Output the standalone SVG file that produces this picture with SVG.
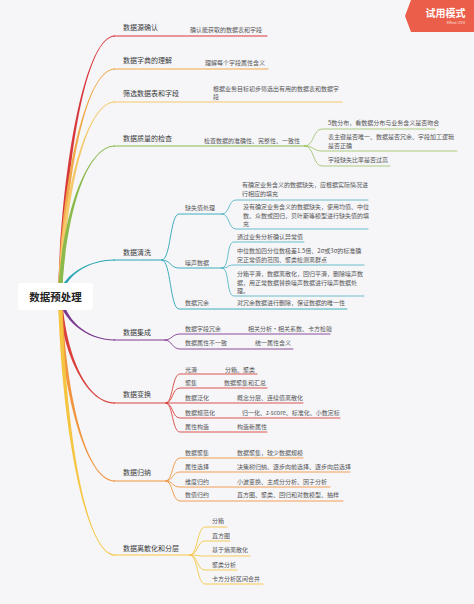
<svg xmlns="http://www.w3.org/2000/svg" width="474" height="604" viewBox="0 0 474 604">
<style>
text{font-family:"Noto Sans CJK SC","Noto Sans",sans-serif;fill:#555;}
.m{font-size:7px;fill:#3a3a3a;}
.c{font-size:6px;}
.root{font-size:10.5px;font-weight:bold;fill:#222;}
.ln{fill:none;stroke-linecap:round;}
.w1{stroke-width:1.2;}
.w2{stroke-width:0.9;}
.w3{stroke-width:0.7;}
.red{stroke:#d8383c;}.redf{fill:#d8383c;}
.or{stroke:#f1a84a;}.orf{fill:#f1a84a;}
.ye{stroke:#f5c96a;}.yef{fill:#f5c96a;}
.gr{stroke:#8cb94c;}.grf{fill:#8cb94c;}
.te{stroke:#2ba6b5;}.tef{fill:#2ba6b5;}
.pu{stroke:#7d3b8f;}.puf{fill:#7d3b8f;}
.cr{stroke:#d9423c;}.crf{fill:#d9423c;}
.or2{stroke:#f0953e;}.or2f{fill:#f0953e;}
.ye2{stroke:#f5c542;}.ye2f{fill:#f5c542;}
</style>
<rect x="0" y="0" width="474" height="604" fill="#f6f6f9"/>

<g id="connectors">
  <path class="redf" d="M58,296 C61,166 85,35.4 115,35.4 L115,36.6 C85,36.6 65,166 62,296 Z"/>
  <path class="orf" d="M58,296 C61,182.5 85,68.4 115,68.4 L115,69.6 C85,69.6 65,182.5 62,296 Z"/>
  <path class="yef" d="M58,296 C61,199 85,101.4 115,101.4 L115,102.6 C85,102.6 65,199 62,296 Z"/>
  <path class="grf" d="M58,296 C61,221 85,145.4 115,145.4 L115,146.6 C85,146.6 65,221 62,296 Z"/>
  <path class="tef" d="M58,296 C61,278 85,259.4 115,259.4 L115,260.6 C85,260.6 65,278 62,296 Z"/>
  <path class="puf" d="M58,296 C61,318 85,340.6 115,340.6 L115,339.4 C85,339.4 65,318 62,296 Z"/>
  <path class="crf" d="M58,296 C61,349.5 85,403.6 115,403.6 L115,402.4 C85,402.4 65,349.5 62,296 Z"/>
  <path class="or2f" d="M58,296 C61,388.5 85,481.6 115,481.6 L115,480.4 C85,480.4 65,388.5 62,296 Z"/>
  <path class="ye2f" d="M58,296 C61,425.5 85,555.6 115,555.6 L115,554.4 C85,554.4 65,425.5 62,296 Z"/>

  <path class="ln w1 red" d="M114,36 L267,36"/>
  <path class="ln w1 or" d="M114,69 L268,69"/>
  <path class="ln w1 ye" d="M114,102 L342,102"/>
  <path class="ln w1 gr" d="M114,146 L305,146"/>
  <path class="ln w3 gr" d="M305,146 C314,146 313,129 322,129 L435,129"/>
  <path class="ln w3 gr" d="M305,146 C314,146 313,151 322,151 L457,151"/>
  <path class="ln w3 gr" d="M305,146 C314,146 313,166 322,166 L390,166"/>
  <path class="ln w1 te" d="M114,260 L162,260"/>
  <path class="ln w2 te" d="M162,260 C171,260 170,214 179,214 L222,214"/>
  <path class="ln w2 te" d="M162,260 C171,260 170,268 179,268 L222,268"/>
  <path class="ln w2 te" d="M162,260 C171,260 170,309 179,309 L347,309"/>
  <path class="ln w3 te" d="M222,214 C230,214 228,200 236,200 L368,200"/>
  <path class="ln w3 te" d="M222,214 C230,214 228,229 236,229 L368,229"/>
  <path class="ln w3 te" d="M222,268 C230,268 226,242 234,242 L304,242"/>
  <path class="ln w3 te" d="M222,268 C230,268 226,265 234,265 L364,265"/>
  <path class="ln w3 te" d="M222,268 C230,268 226,296 234,296 L364,296"/>
  <path class="ln w1 pu" d="M114,340 L165,340"/>
  <path class="ln w2 pu" d="M165,340 C172,340 172,334 180,334 L330,334"/>
  <path class="ln w2 pu" d="M165,340 C172,340 172,349 180,349 L293,349"/>
  <path class="ln w1 cr" d="M114,403 L166,403"/>
  <path class="ln w2 cr" d="M166,403 C173,403 172,374 180,374 L257,374"/>
  <path class="ln w2 cr" d="M166,403 C173,403 172,388 180,388 L267,388"/>
  <path class="ln w2 cr" d="M166,403 L303,403"/>
  <path class="ln w2 cr" d="M166,403 C173,403 172,418 180,418 L340,418"/>
  <path class="ln w2 cr" d="M166,403 C173,403 172,432 180,432 L267,432"/>
  <path class="ln w1 or2" d="M114,481 L166,481"/>
  <path class="ln w2 or2" d="M166,481 C173,481 172,458 180,458 L303,458"/>
  <path class="ln w2 or2" d="M166,481 C173,481 172,472 180,472 L350,472"/>
  <path class="ln w2 or2" d="M166,481 C173,481 172,487 180,487 L330,487"/>
  <path class="ln w2 or2" d="M166,481 C173,481 172,501 180,501 L343,501"/>
  <path class="ln w1 ye2" d="M114,555 L190,555"/>
  <path class="ln w2 ye2" d="M190,555 C198,555 197,527 205,527 L227,527"/>
  <path class="ln w2 ye2" d="M190,555 C198,555 197,541 205,541 L230,541"/>
  <path class="ln w2 ye2" d="M190,555 C198,555 197,556 205,556 L250,556"/>
  <path class="ln w2 ye2" d="M190,555 C198,555 197,570 205,570 L237,570"/>
  <path class="ln w2 ye2" d="M190,555 C198,555 197,584 205,584 L263,584"/>
</g>

<g id="root">
  <rect x="18" y="283" width="75" height="27" rx="3" fill="#ffffff"/>
  <text class="root" x="55.5" y="300.5" text-anchor="middle">数据预处理</text>
</g>

<g id="n1">
  <text class="m" x="123" y="29.6">数据源确认</text>
  <text class="c" x="190" y="32.2">确认能获取的数据表和字段</text>
</g>
<g id="n2">
  <text class="m" x="123" y="62.6">数据字典的理解</text>
  <text class="c" x="205" y="65.2">理解每个字段属性含义</text>
</g>
<g id="n3">
  <text class="m" x="123" y="95.6">筛选数据表和字段</text>
  <text class="c" x="213" y="91.2">根据业务目标初步筛选出有用的数据表和数据字</text>
  <text class="c" x="213" y="99.2">段</text>
</g>
<g id="n4">
  <text class="m" x="123" y="140.6">数据质量的检查</text>
  <text class="c" x="204" y="143.2">检查数据的准确性、完整性、一致性</text>
  <text class="c" x="328" y="125.2">5数分布，看数据分布与业务含义是否吻合</text>
  <text class="c" x="328" y="139.2">表主键是否唯一、数据是否冗余、字段加工逻辑</text>
  <text class="c" x="328" y="147.7">是否正确</text>
  <text class="c" x="328" y="162.2">字段缺失比率是否过高</text>
</g>
<g id="n5">
  <text class="m" x="123" y="254.6">数据清洗</text>
  <text class="c" x="185" y="210.2">缺失值处理</text>
  <text class="c" x="185" y="265.2">噪声数据</text>
  <text class="c" x="185" y="305.2">数据冗余</text>
  <text class="c" x="242" y="187.2">有确定业务含义的数据缺失，应根据实际情况进</text>
  <text class="c" x="242" y="195.7">行相应的填充</text>
  <text class="c" x="243" y="209.2">没有确定业务含义的数据缺失，使用均值、中位</text>
  <text class="c" x="243" y="217.7">数、众数或回归，贝叶斯等模型进行缺失值的填</text>
  <text class="c" x="243" y="226.2">充</text>
  <text class="c" x="237" y="239.2">通过业务分析确认异常值</text>
  <text class="c" x="237" y="253.2">中位数加四分位数极差1.5倍、2σ或3σ的标准确</text>
  <text class="c" x="237" y="261.7">定正常值的范围、聚类检测离群点</text>
  <text class="c" x="237" y="276.2">分箱平滑，数据离散化，回归平滑，删除噪声数</text>
  <text class="c" x="237" y="284.7">据，用正常数据替换噪声数据进行噪声数据处</text>
  <text class="c" x="237" y="293.2">理。</text>
  <text class="c" x="237" y="305.2">对冗余数据进行删除，保证数据的唯一性</text>
</g>
<g id="n6">
  <text class="m" x="123" y="334.6">数据集成</text>
  <text class="c" x="185" y="331.2">数据字段冗余</text>
  <text class="c" x="185" y="345.2">数据属性不一致</text>
  <text class="c" x="248" y="331.2">相关分析·相关系数、卡方检验</text>
  <text class="c" x="255" y="345.2">统一属性含义</text>
</g>
<g id="n7">
  <text class="m" x="123" y="396.6">数据变换</text>
  <text class="c" x="185" y="372.2">光滑</text>
  <text class="c" x="185" y="385.2">聚集</text>
  <text class="c" x="185" y="400.2">数据泛化</text>
  <text class="c" x="185" y="415.2">数据规范化</text>
  <text class="c" x="185" y="429.2">属性构造</text>
  <text class="c" x="225" y="372.2">分箱、聚类</text>
  <text class="c" x="224" y="385.2">数据聚集和汇总</text>
  <text class="c" x="237" y="400.2">概念分层、连续值离散化</text>
  <text class="c" x="242" y="415.2">归一化、z-score、标准化、小数定标</text>
  <text class="c" x="237" y="429.2">构造新属性</text>
</g>
<g id="n8">
  <text class="m" x="123" y="474.6">数据归纳</text>
  <text class="c" x="185" y="455.2">数据聚集</text>
  <text class="c" x="185" y="469.2">属性选择</text>
  <text class="c" x="185" y="484.2">维度归约</text>
  <text class="c" x="185" y="497.2">数值归约</text>
  <text class="c" x="237" y="455.2">数据聚集，较少数据规模</text>
  <text class="c" x="237" y="469.2">决策树归纳、逐步向前选择、逐步向后选择</text>
  <text class="c" x="237" y="484.2">小波变换、主成分分析、因子分析</text>
  <text class="c" x="237" y="497.2">直方图、聚类、回归和对数模型、抽样</text>
</g>
<g id="n9">
  <text class="m" x="123" y="550.6">数据离散化和分层</text>
  <text class="c" x="212" y="523.2">分箱</text>
  <text class="c" x="212" y="538.2">直方图</text>
  <text class="c" x="212" y="552.2">基于熵离散化</text>
  <text class="c" x="212" y="567.2">聚类分析</text>
  <text class="c" x="212" y="581.2">卡方分析区间合并</text>
</g>

<g id="badge">
  <path d="M411,0 L474,0 L474,32 L411,32 L405,16 Z" fill="#ea5e4a"/>
  <text x="445.5" y="17" text-anchor="middle" style="font-size:10px;font-weight:bold;fill:#ffffff">试用模式</text>
  <text x="465" y="24" text-anchor="end" style="font-size:3.5px;fill:#ffe0d8">XMind: ZEN</text>
</g>
</svg>
